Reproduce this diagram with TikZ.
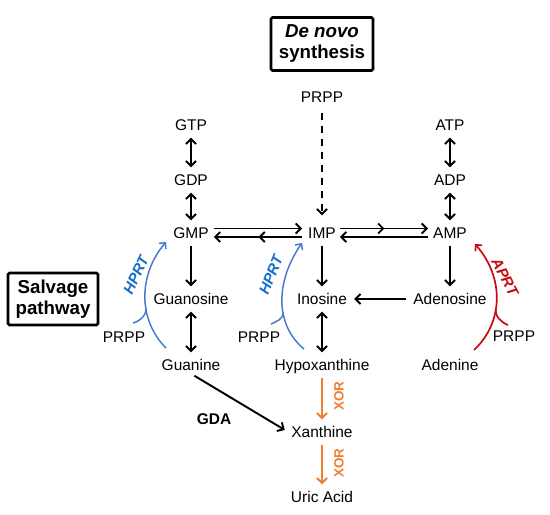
\documentclass[tikz,border=0pt]{standalone}
\usepackage{fontspec}
\setmainfont{Liberation Sans}
\usetikzlibrary{arrows.meta,decorations.markings}
\definecolor{hprtline}{RGB}{74,122,208}
\definecolor{hprttext}{RGB}{20,110,200}
\definecolor{aprtred}{RGB}{200,10,20}
\definecolor{xororange}{RGB}{240,125,50}
\begin{document}
\begin{tikzpicture}[x=1pt,y=-1pt,
	met/.style={inner sep=3pt,text height=11pt,text depth=0pt,font=\fontsize{15.5}{18}\selectfont},
	titlebox/.style={draw,line width=2.7pt,rounded corners=1.5pt,align=center,inner sep=0pt,font=\fontsize{18.7}{21}\selectfont\bfseries},
	enz/.style={inner sep=0pt,font=\fontsize{15}{18}\selectfont\bfseries\itshape},
	xorlab/.style={inner sep=0pt,text=xororange,font=\fontsize{13.5}{16}\selectfont\bfseries},
	flow/.style={line width=1.9pt,shorten <=4pt,shorten >=4pt,-{Straight Barb[length=5pt,width=10pt]}},
	both/.style={flow,{Straight Barb[length=5pt,width=10pt]}-{Straight Barb[length=5pt,width=10pt]}},
	midhead/.style={postaction={decorate},decoration={markings,mark=at position 0.5 with {\arrow{Straight Barb[length=5pt,width=10pt]}}}},
	arc/.style={line width=1.5pt,-{Straight Barb[length=4.5pt,width=9pt]}},
	tail/.style={line width=1.5pt}]
	\useasboundingbox (0,0) rectangle (550,515);

	\node[met] (gmp) at (191,233) {GMP};
	\node[met,node distance=53pt,above of=gmp] (gdp) {GDP};
	\node[met,node distance=55pt,above of=gdp] (gtp) {GTP};
	\node[met,node distance=131pt,right of=gmp] (imp) {IMP};
	\node[met,node distance=128pt,right of=imp] (amp) {AMP};
	\node[met,node distance=53pt,above of=amp] (adp) {ADP};
	\node[met,node distance=55pt,above of=adp] (atp) {ATP};
	\node[met,node distance=136pt,above of=imp] (prpp) {PRPP};
	\node[titlebox,minimum width=102pt,minimum height=53pt,node distance=53pt,above of=prpp] (denovo) {\textit{De novo}\\synthesis};

	\node[met,node distance=66pt,below of=gmp] (guanosine) {Guanosine};
	\node[met,node distance=66pt,below of=imp] (inosine) {Inosine};
	\node[met,node distance=66pt,below of=amp] (adenosine) {Adenosine};
	\node[met,node distance=66pt,below of=guanosine] (guanine) {Guanine};
	\node[met,node distance=66pt,below of=inosine] (hypoxanthine) {Hypoxanthine};
	\node[met,node distance=66pt,below of=adenosine] (adenine) {Adenine};
	\node[met,node distance=67pt,below of=hypoxanthine] (xanthine) {Xanthine};
	\node[met,node distance=65pt,below of=xanthine] (uric) {Uric Acid};
	\node[titlebox,minimum width=90pt,minimum height=52pt,node distance=138pt,left of=guanosine] (salvage) {Salvage\\pathway};

	\node[met] (prppG) at (124,337) {PRPP};
	\node[met] (prppI) at (259,337) {PRPP};
	\node[met] (prppA) at (514,336) {PRPP};
	\node[met,font=\fontsize{15.5}{18}\selectfont\bfseries] (gda) at (214,419) {GDA};

	\node[enz,text=hprttext,rotate=65] (hprtG) at (136,275) {HPRT};
	\node[enz,text=hprttext,rotate=68] (hprtI) at (271,275) {HPRT};
	\node[enz,text=aprtred,rotate=-62] (aprt) at (505,277) {APRT};
	\node[xorlab,rotate=90] (xorA) at (339,396) {XOR};
	\node[xorlab,rotate=90] (xorB) at (339,463) {XOR};

	\draw[both] (gtp) -- (gdp);
	\draw[both] (gdp) -- (gmp);
	\draw[both] (atp) -- (adp);
	\draw[both] (adp) -- (amp);
	\draw[flow,dash pattern=on 7pt off 6pt,shorten <=7pt,shorten >=9pt] (prpp) -- (imp);

	\draw[flow,shorten <=2pt,shorten >=3pt] ([yshift=4.5pt]gmp.east) -- ([yshift=4.5pt]imp.west);
	\draw[flow,midhead,shorten <=3pt,shorten >=2pt] ([yshift=-4pt]imp.west) -- ([yshift=-4pt]gmp.east);
	\draw[flow,midhead,shorten <=1pt,shorten >=2pt] ([yshift=4.5pt]imp.east) -- ([yshift=4.5pt]amp.west);
	\draw[flow,shorten <=2pt,shorten >=1pt] ([yshift=-4pt]amp.west) -- ([yshift=-4pt]imp.east);

	\draw[flow] (gmp) -- (guanosine);
	\draw[flow] (imp) -- (inosine);
	\draw[flow] (amp) -- (adenosine);
	\draw[flow] (adenosine) -- (inosine);
	\draw[both] (guanosine) -- (guanine);
	\draw[both] (inosine) -- (hypoxanthine);
	\draw[flow] (guanine.south) -- (xanthine.west);
	\draw[flow,xororange] (hypoxanthine) -- (xanthine);
	\draw[flow,xororange] (xanthine) -- (uric);

	\draw[arc,hprtline] ([shift={(-25,-17)}]guanine.center) .. controls +(-28,-28) and +(-28,33) .. ([shift={(-25,9)}]gmp.center);
	\draw[tail,hprtline] ([shift={(9,-14)}]prppG.center) .. controls (138,322) and (147,316) .. (145.8,308);
	\draw[arc,hprtline] ([shift={(-18,-16)}]hypoxanthine.center) .. controls +(-29,-24) and +(-27,39) .. ([shift={(-20,10)}]imp.center);
	\draw[tail,hprtline] ([shift={(12,-13)}]prppI.center) .. controls (276,322) and (284,318.5) .. (283,312.5);
	\draw[arc,aprtred,line width=1.7pt] ([shift={(24,-15)}]adenine.center) .. controls +(30,-28) and +(29,33) .. ([shift={(25,11)}]amp.center);
	\draw[tail,aprtred,line width=1.7pt] ([shift={(-6,-11)}]prppA.center) .. controls (502,323) and (494.7,316) .. (495.7,310);
\end{tikzpicture}
\end{document}
